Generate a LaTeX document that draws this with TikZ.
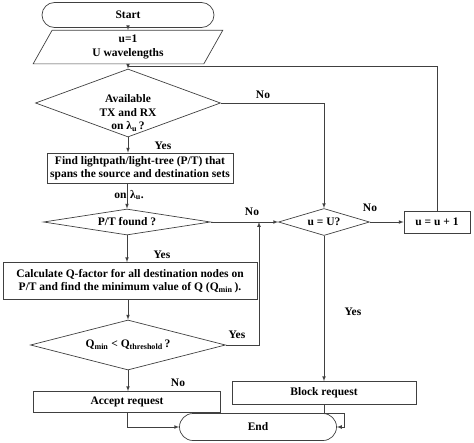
\documentclass[tikz,border=0pt]{standalone}
\usepackage{fontspec}
\setmainfont{Liberation Serif}
\usetikzlibrary{shapes.geometric, shapes.misc, arrows, positioning}

\tikzset{
    flow/.style={draw=black!75, line width=0.7pt, font=\bfseries\fontsize{11.5}{13.5}\selectfont, align=center, inner sep=0pt},
    terminal/.style={flow, rounded rectangle},
    io/.style={flow, rectangle, draw=none},
    decision/.style={flow, diamond},
    process/.style={flow, rectangle},
    lbl/.style={font=\bfseries\fontsize{11.5}{13.5}\selectfont},
    link/.style={draw=black!75, line width=0.7pt},
    conn/.style={link, -latex}
}

\begin{document}
\begin{tikzpicture}[x=1pt, y=-1pt]
    \useasboundingbox (0,0) rectangle (474,442);

    % main column
    \node[terminal, minimum width=172pt, minimum height=25pt] (start) at (128,15) {Start};
    \node[io, minimum width=170pt, minimum height=33pt] (init) at (128,47) {u=1\\U wavelengths};
    \draw[link] ([xshift=-9.5pt]init.south west) -- ([xshift=9.5pt]init.north west)
        -- ([xshift=9.5pt]init.north east) -- ([xshift=-9.5pt]init.south east) -- cycle;
    \node[decision, minimum width=185pt, minimum height=68pt,
          label={[lbl, align=center, yshift=-10pt]center:Available\\TX and RX\\on λ\textsubscript{u}\,?}] (avail) at (128,103) {};
    \node[process, minimum width=186pt, minimum height=30pt] (findpt) at (140,168) {Find lightpath/light-tree (P/T) that\\spans the source and destination sets};
    \node[lbl] (onlam) at (129,195) {on\,\,λ\textsubscript{u}.};
    \node[decision, minimum width=167pt, minimum height=26pt, shape aspect=6] (found) at (127,222) {P/T found ?};
    \node[process, minimum width=254pt, minimum height=37pt] (calcq) at (130,281) {Calculate Q-factor for all destination nodes on\\P/T and find the minimum value of Q (Q\textsubscript{min}\,).};
    \node[decision, minimum width=195pt, minimum height=50pt, shape aspect=3.9] (qcheck) at (128,345) {Q\textsubscript{min} < Q\textsubscript{threshold}\,?};
    \node[process, minimum width=187pt, minimum height=21pt] (accept) at (127,402) {Accept request};
    \node[terminal, minimum width=157pt, minimum height=27pt] (finish) at (258,427) {End};

    % right side
    \node[decision, minimum width=91pt, minimum height=27pt, shape aspect=3.4] (lastu) at (324,222) {u = U?};
    \node[process, minimum width=66pt, minimum height=22pt] (incr) at (437,222) {u = u + 1};
    \node[process, minimum width=184pt, minimum height=23pt] (block) at (324,393) {Block request};

    \coordinate (join) at (128,66);
    \coordinate (merge) at (259,222);
    \coordinate (bend) at (344,427);

    % labels
    \node[lbl] at (263,95) {No};
    \node[lbl] at (163,146) {Yes};
    \node[lbl] at (252,212) {No};
    \node[lbl] at (162,255) {Yes};
    \node[lbl] at (237,335) {Yes};
    \node[lbl] at (178,383) {No};
    \node[lbl] at (370,208) {No};
    \node[lbl] at (353,312) {Yes};

    % connectors
    \draw[conn] (start) -- (init);
    \draw[conn] (init) -- (avail);
    \draw[link] (incr.north) |- (join);
    \draw[conn] (avail.south) -- (avail.south |- findpt.north);
    \draw[conn] (findpt.south -| found.north) -- (found.north);
    \draw[conn] (found.south) -- (found.south |- calcq.north);
    \draw[conn] (calcq.south -| qcheck.north) -- (qcheck.north);
    \draw[conn] (qcheck.south) -- (qcheck.south |- accept.north);
    \draw[conn] (accept.south) |- (finish.west);
    \draw[conn] (avail.east) -| (lastu.north);
    \draw[conn] (found.east) -- (lastu.west);
    \draw[conn] (qcheck.east) -| (merge);
    \draw[conn] (lastu.east) -- (incr.west);
    \draw[conn] (lastu.south) -- (block.north);
    \draw[conn] (block.south) -- ++(0,8) -| (bend) -- (finish.east);
\end{tikzpicture}
\end{document}
